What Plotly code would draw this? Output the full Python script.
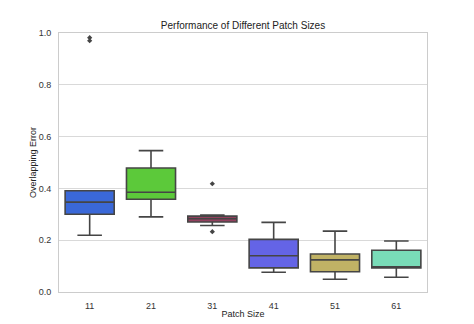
import plotly.graph_objects as go

# Patch sizes and summary statistics of the overlapping error
patch_sizes = ["11", "21", "31", "41", "51", "61"]
q1 = [0.300, 0.358, 0.270, 0.093, 0.078, 0.093]
median = [0.347, 0.385, 0.283, 0.140, 0.124, 0.095]
q3 = [0.391, 0.479, 0.293, 0.203, 0.147, 0.161]
lower_whisker = [0.219, 0.290, 0.257, 0.076, 0.049, 0.057]
upper_whisker = [0.391, 0.546, 0.297, 0.269, 0.235, 0.197]
colors = ["#3a68d8", "#5cc93a", "#93405e", "#6464e6", "#c0b265", "#79dcb8"]

# Outlying points
outlier_x = ["11", "11", "31", "31"]
outlier_y = [0.970, 0.982, 0.418, 0.233]

line_col = "#454545"
fig = go.Figure()
for i, cat in enumerate(patch_sizes):
    fig.add_trace(go.Box(
        x=[cat], q1=[q1[i]], median=[median[i]], q3=[q3[i]],
        lowerfence=[lower_whisker[i]], upperfence=[upper_whisker[i]],
        fillcolor=colors[i], line=dict(color=line_col, width=1.6),
        boxpoints=False, whiskerwidth=0.5, width=0.8, showlegend=False,
    ))

fig.add_trace(go.Scatter(
    x=outlier_x, y=outlier_y, mode="markers",
    marker=dict(symbol="diamond", size=4, color=line_col),
    showlegend=False,
))

fig.update_layout(
    width=474, height=324,
    margin=dict(l=59, r=47, t=33, b=32),
    paper_bgcolor="white", plot_bgcolor="white",
    boxmode="overlay",
    font=dict(family="Liberation Sans, Arial, sans-serif", size=9, color="#333333"),
    title=dict(text="Performance of Different Patch Sizes", x=0.5, xref="paper",
               xanchor="center", y=1, yref="container", yanchor="top", pad=dict(t=22),
               font=dict(size=10, color="#222222")),
    xaxis=dict(
        type="category", categoryorder="array", categoryarray=patch_sizes,
        range=[-0.5, 5.5], automargin=False,
        title=dict(text="Patch Size", font=dict(size=9, color="#222222"), standoff=0),
        showgrid=False, showline=True, linecolor="#cccccc", mirror=True,
        ticks="", zeroline=False, ticklabelstandoff=5,
    ),
    yaxis=dict(
        range=[0, 1.0], tickvals=[0.0, 0.2, 0.4, 0.6, 0.8, 1.0],
        ticktext=["0.0", "0.2", "0.4", "0.6", "0.8", "1.0"], automargin=False,
        title=dict(text="Overlapping Error", font=dict(size=9, color="#222222"), standoff=0),
        showgrid=True, gridcolor="#d9d9d9", gridwidth=1,
        showline=True, linecolor="#cccccc", mirror=True,
        zeroline=False, ticks="", ticklabelstandoff=5,
    ),
)

fig.write_html("out.html")
